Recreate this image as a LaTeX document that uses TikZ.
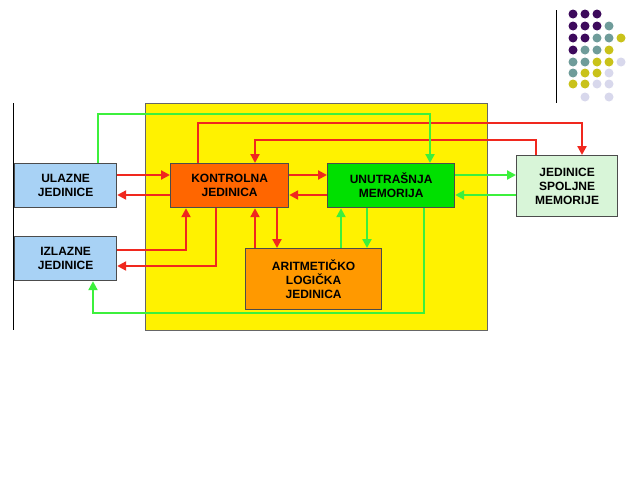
\documentclass[tikz,border=0pt]{standalone}
\usepackage{fontspec}
\setmainfont{Liberation Sans}
\usetikzlibrary{arrows.meta}
\definecolor{pur}{HTML}{3D0A5C}
\definecolor{teal}{HTML}{6F9C9A}
\definecolor{yel}{HTML}{C9C21A}
\definecolor{lav}{HTML}{D8D8EC}
\definecolor{red1}{HTML}{F0281E}
\definecolor{grn1}{HTML}{3CF03C}
\definecolor{lblue}{HTML}{A8D2F5}
\tikzset{
 box/.style={draw=black!70,line width=1.2pt,inner sep=0pt,font=\bfseries\fontsize{12}{14}\selectfont,align=center,anchor=north west},
 rl/.style={draw=red1,line width=2.2pt,-{Triangle[length=9pt,width=9pt]}},
 gl/.style={draw=grn1,line width=2.2pt,-{Triangle[length=9pt,width=9pt]}},
 dot/.style={circle,inner sep=0pt,minimum size=9pt}
}
\begin{document}
\begin{tikzpicture}[x=1pt,y=-1pt]
\useasboundingbox (0,0) rectangle (638,479);
\fill[white] (0,0) rectangle (638,479);
\draw[black,line width=1pt] (13,103) -- (13,330);
\draw[black,line width=1pt] (556,10) -- (556,103);
\draw[fill=yellow,draw=black!60,line width=1pt] (145,103) rectangle (487,330);
\node[box,fill=lblue,minimum width=102pt,minimum height=44pt] (ul) at (14,163) {ULAZNE\\JEDINICE};
\node[box,fill=lblue,minimum width=102pt,minimum height=44pt] (iz) at (14,236) {IZLAZNE\\JEDINICE};
\node[box,fill={rgb,255:red,255;green,102;blue,0},minimum width=118pt,minimum height=44pt] (ko) at (170,163) {KONTROLNA\\JEDINICA};
\node[box,fill={rgb,255:red,0;green,224;blue,0},minimum width=127pt,minimum height=44pt] (un) at (327,163) {UNUTRAŠNJA\\MEMORIJA};
\node[box,fill={rgb,255:red,255;green,153;blue,0},minimum width=136pt,minimum height=61pt] (ar) at (245,248) {ARITMETIČKO\\LOGIČKA\\JEDINICA};
\node[box,fill={rgb,255:red,216;green,245;blue,216},minimum width=101pt,minimum height=61pt] (sp) at (516,155) {JEDINICE\\SPOLJNE\\MEMORIJE};
% red
\draw[rl] (ul.east|-0,175) -- (ko.west|-0,175);
\draw[rl] (ko.west|-0,195) -- (ul.east|-0,195);
\draw[rl] (ko.east|-0,175) -- (un.west|-0,175);
\draw[rl] (un.west|-0,195) -- (ko.east|-0,195);
\draw[rl] (iz.east|-0,250) -| (ko.south-|186,0);
\draw[rl] (ko.south-|216,0) |- (iz.east|-0,266);
\draw[rl] (ko.north-|198,0) |- (582,123) -- (sp.north-|582,0);
\draw[rl] (sp.north-|536,0) |- (255,140) -- (ko.north-|255,0);
\draw[rl] (ar.north-|255,0) -- (ko.south-|255,0);
\draw[rl] (ko.south-|277,0) -- (ar.north-|277,0);
% green
\draw[gl] (ul.north-|98,0) |- (430,114) -- (un.north-|430,0);
\draw[gl] (un.east|-0,175) -- (sp.west|-0,175);
\draw[gl] (sp.west|-0,195) -- (un.east|-0,195);
\draw[gl] (ar.north-|341,0) -- (un.south-|341,0);
\draw[gl] (un.south-|367,0) -- (ar.north-|367,0);
\draw[gl] (un.south-|424,0) |- (93,313) -- (iz.south-|93,0);
% dots
\foreach \c/\x/\y in {pur/573/14,pur/585/14,pur/597/14,
 pur/573/26,pur/585/26,pur/597/26,teal/609/26,
 pur/573/38,pur/585/38,teal/597/38,teal/609/38,yel/621/38,
 pur/573/50,teal/585/50,teal/597/50,yel/609/50,
 teal/573/62,teal/585/62,yel/597/62,yel/609/62,lav/621/62,
 teal/573/73,yel/585/73,yel/597/73,lav/609/73,
 yel/573/84,yel/585/84,lav/597/84,lav/609/84,
 lav/585/97,lav/609/97}
 \node[dot,fill=\c] (d\x-\y) at (\x,\y) {};
\end{tikzpicture}
\end{document}
